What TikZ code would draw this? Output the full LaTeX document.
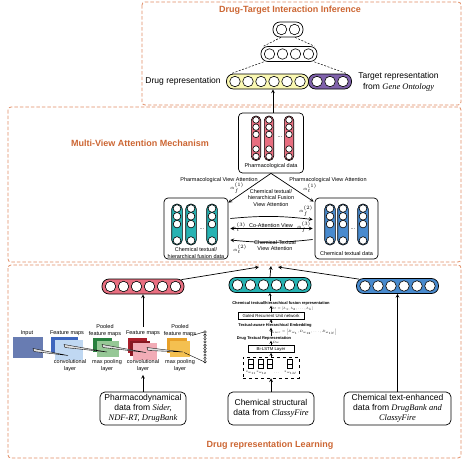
\documentclass[tikz,border=0pt]{standalone}
\usepackage{fontspec}
\setmainfont{Liberation Sans}
\newfontfamily\timesit{Liberation Serif}
\usepackage{amsmath}
\usetikzlibrary{arrows, positioning, calc}

\definecolor{secorange}{RGB}{204,102,51}
\definecolor{dashorange}{RGB}{224,140,100}
\definecolor{pharmpink}{RGB}{232,110,128}
\definecolor{fusionteal}{RGB}{38,178,178}
\definecolor{textblue}{RGB}{72,138,206}
\definecolor{drugyellow}{RGB}{250,248,178}
\definecolor{targetpurple}{RGB}{128,98,172}
\definecolor{inputblue}{RGB}{104,124,178}
\definecolor{fmblue}{RGB}{62,102,190}
\definecolor{fmlightblue}{RGB}{192,216,242}
\definecolor{poolgreen}{RGB}{40,128,62}
\definecolor{poollightgreen}{RGB}{150,200,150}
\definecolor{fmred}{RGB}{170,30,42}
\definecolor{fmpink}{RGB}{242,172,182}
\definecolor{poolorange}{RGB}{232,160,40}
\definecolor{poollightorange}{RGB}{244,192,80}

\newcommand{\sz}[2]{\fontsize{#1}{#2}\selectfont}
\newcommand{\tinymath}[1]{\scalebox{0.62}{$#1$}}

% horizontal layer of units: name, x, y, number of units, fill
\newcommand{\hlayer}[5]{%
  \node[layerbox, fill=#5, minimum width={#4*13+4}] (#1) at (#2,#3) {};
  \foreach \k in {1,...,#4}
    \node[unit] (#1-\k) at ({#2+(\k-(#4+1)/2)*13},#3) {};
}
% vertical layer: x, top, bottom, fill, radius, circle positions
\newcommand{\vlayer}[6]{%
  \draw[fill=#4, line width=0.6, rounded corners={#5+1.2}] ({#1-#5-1.5},#2) rectangle ({#1+#5+1.5},#3);
  \foreach \cy in {#6}
    \draw[fill=white, line width=0.6] (#1,\cy) circle (#5);
}

\begin{document}
\begin{tikzpicture}[x=1pt, y=-1pt, >=stealth, font=\sz{5.5}{6.5}]
\tikzstyle{layerbox} = [rectangle, rounded corners=7, draw, line width=0.7, minimum height=15, inner sep=0]
\tikzstyle{unit} = [circle, draw, fill=white, line width=0.6, inner sep=0, minimum size=10.5]
\tikzstyle{databox} = [rectangle, rounded corners=4, draw, line width=0.7, inner sep=0]
\tikzstyle{srcbox} = [rectangle, rounded corners=5, draw, line width=0.7, align=center, font=\sz{8.5}{10}, inner sep=0]
\tikzstyle{section} = [draw=dashorange, dash pattern=on 3.5pt off 2pt, line width=0.8, rounded corners=3]
\tikzstyle{sectitle} = [text=secorange, font=\bfseries\sz{9}{10}]
\tikzstyle{arrow} = [->, line width=0.7]
\tikzstyle{smallarrow} = [->, line width=0.4]
\tikzstyle{netline} = [dash pattern=on 2pt off 1.5pt, line width=0.5]
\tikzstyle{tinybox} = [rectangle, draw, line width=0.5, font=\sz{4.3}{5}, inner sep=0]
\tikzstyle{tinylbl} = [font=\bfseries\sz{4}{5}, inner sep=0]
\tikzstyle{formula} = [font=\sz{5}{6}, inner sep=0]
\tikzstyle{wedge} = [fill=gray!25, draw=black, line width=0.35]

\useasboundingbox (0,0) rectangle (474,471);

% sections
\draw[section] (142,2) rectangle (461,105);
\draw[section] (8,107) rectangle (461,262);
\draw[section] (8,265) rectangle (461,458);
\node[sectitle] (dtititle) at (290,10) {Drug-Target Interaction Inference};
\node[sectitle] (mvtitle) at (140,143) {Multi-View Attention Mechanism};
\node[sectitle] (drltitle) at (270,445) {Drug representation Learning};

% drug-target interaction inference
\hlayer{out}{288}{29.5}{2}{white}
\hlayer{hid}{289}{54}{4}{white}
\hlayer{drug}{267.5}{81.5}{6}{drugyellow}
\hlayer{target}{330}{81.5}{3}{targetpurple}
\draw[netline] ($(out.south)+(-7,0)$) -- ($(hid.north west)+(3,0)$);
\draw[netline] ($(out.south)+(7,0)$) -- ($(hid.north east)+(-3,0)$);
\draw[netline] ($(hid.south west)+(3,0)$) -- ($(drug.north west)+(5,0)$);
\draw[netline] ($(hid.south east)+(-3,0)$) -- ($(target.north east)+(-5,0)$);
\node[font=\sz{8.5}{10}, left=2pt of drug] (druglbl) {Drug representation};
\node[font=\sz{8.5}{11}, align=center, right=3pt of target] (targetlbl) {Target representation\\from {\timesit\itshape Gene Ontology}};

% multi-view attention
\node[databox, minimum width=65, minimum height=60] (pharm) at (271,143) {};
\vlayer{256}{116}{160.5}{pharmpink}{3.2}{120,127.2,134.4,149,156.4}
\vlayer{269}{116}{160.5}{pharmpink}{3.2}{120,127.2,134.4,149,156.4}
\vlayer{289}{116}{160.5}{pharmpink}{3.2}{120,127.2,134.4,149,156.4}
\node (pharmdots) at (280,137) {...};
\node (pharmlbl) at (271,166.5) {Pharmacological data};

\node[databox, minimum width=64, minimum height=61] (fusion) at (196,228.5) {};
\vlayer{177}{204}{245}{fusionteal}{3.8}{208.5,216.3,224.1,240.5}
\vlayer{191}{204}{245}{fusionteal}{3.8}{208.5,216.3,224.1,240.5}
\vlayer{212}{204}{245}{fusionteal}{3.8}{208.5,216.3,224.1,240.5}
\node (fusiondots) at (202,229) {...};
\node[align=center, font=\sz{5.5}{7}] (fusionlbl) at (196,253.5) {Chemical textual/\\hierarchical fusion data};

\node[databox, minimum width=63, minimum height=61] (textual) at (346.5,228.5) {};
\vlayer{330}{204}{245}{textblue}{3.8}{208.5,216.3,224.1,240.5}
\vlayer{343}{204}{245}{textblue}{3.8}{208.5,216.3,224.1,240.5}
\vlayer{363}{204}{245}{textblue}{3.8}{208.5,216.3,224.1,240.5}
\node (textualdots) at (353,229) {...};
\node (textuallbl) at (346.5,254) {Chemical textual data};

\coordinate (up) at ($(pharm.north)+(2,0)$);
\draw[arrow] (up) -- (up |- drug.south);
\draw[arrow] (pharm.south) -- ($(fusion.north east)+(0,5)$);
\draw[arrow] (pharm.south) -- ($(textual.north west)+(-1,4)$);
\draw[arrow] ($(fusion.east)+(2,-10)$) to[bend left=6] ($(textual.west)+(-2,-9)$);
\draw[<->, line width=0.7] ($(fusion.east)+(2,0)$) -- ($(textual.west)+(-2,0)$);
\draw[arrow] ($(textual.west)+(-2,11)$) to[bend left=6] ($(fusion.east)+(2,11.5)$);

\node (pvaleft) at (219,180) {Pharmacological View Attention};
\node (pvaright) at (328,180) {Pharmacological View Attention};
\node (af1) at (237,188) {$\alpha_f^{(1)}$};
\node (at1) at (310,188) {$\alpha_t^{(1)}$};
\node[align=center, font=\sz{5.5}{6.5}] (cfva) at (271,198) {Chemical textual/\\hierarchical Fusion\\View Attention};
\node (af2) at (306,211) {$\alpha_f^{(2)}$};
\node (coatt) at (271,225.5) {Co-Attention View};
\node (at3) at (239,227) {$\alpha_t^{(3)}$};
\node (af3) at (304,227) {$\alpha_f^{(3)}$};
\node[align=center, font=\sz{5.5}{6.5}] (ctva) at (275,245.5) {Chemical Textual\\View Attention};
\node (at2) at (240,249) {$\alpha_t^{(2)}$};

% drug representation learning
\hlayer{pdrep}{143}{286.5}{6}{pharmpink}
\hlayer{fusrep}{270}{285}{6}{fusionteal}
\hlayer{txtrep}{397.5}{286}{6}{textblue}
\coordinate (in1) at (259,267);
\coordinate (in2) at (271,266);
\coordinate (in3) at (278,267);
\draw[arrow] ($(pdrep.north east)+(-3,1)$) -- (in1);
\draw[arrow] (fusrep.north) -- (in2);
\draw[arrow] ($(txtrep.north west)+(3,1)$) -- (in3);

% CNN branch
\node (inputlbl) at (27,333) {Input};
\node[fill=inputblue, minimum width=30, minimum height=21, inner sep=0] (inputmap) at (28,347.5) {};
\fill[fmblue] (51,337) rectangle (78,353);
\fill[fmlightblue] (55,340) rectangle (83,360);
\fill[poolgreen] (93,338) rectangle (112,352);
\fill[poollightgreen] (97,341) rectangle (119,357);
\fill[fmred] (128,338) rectangle (147,353);
\fill[fmred!80!black] (130,340.5) rectangle (150,356);
\fill[fmpink] (133,343) rectangle (157,360);
\fill[poolorange] (167,338) rectangle (187,353);
\fill[poollightorange] (170,341) rectangle (190,357);
\filldraw[wedge] (33,348.5) -- (68,355.5) -- (34,351.5) -- cycle;
\filldraw[wedge] (64,344.5) -- (107,352) -- (65,347.5) -- cycle;
\filldraw[wedge] (102,344.5) -- (146,352.5) -- (103,347.5) -- cycle;
\filldraw[wedge] (147,347.5) -- (183,352) -- (148,350.5) -- cycle;
\foreach \i in {0,...,9}
  \draw[line width=0.4, fill=white] (205,332+\i*3.3) circle (1.3);
\draw[line width=0.4] (192,335.5) -- (204,332);
\draw[line width=0.4] (184,352.5) -- (204,361.7);
\node (fm1lbl) at (67,333) {Feature maps};
\node[align=center] (pool1lbl) at (105,330.5) {Pooled\\feature maps};
\node (fm2lbl) at (143,333) {Feature maps};
\node[align=center] (pool2lbl) at (180,330.5) {Pooled\\feature maps};
\node[align=center] (conv1lbl) at (70,365.5) {convolutional\\layer};
\node[align=center] (pool1layer) at (107,365.5) {max pooling\\layer};
\node[align=center] (conv2lbl) at (143,365.5) {convolutional\\layer};
\node[align=center] (pool2layer) at (180,365.5) {max pooling\\layer};
\draw[arrow] (fm2lbl.north) -- (pdrep.south);

% textual branch
\node[tinylbl] (fusreplbl) at (281,303.5) {Chemical textual/hierarchical fusion representation};
\node[formula] (dtform) at (292,308.5) {\tinymath{D_t=[h_1,h_2,\ldots,h_k]}};
\node[tinybox, minimum width=66, minimum height=7] (gru) at (271,315.5) {Gated Recurrent Unit network};
\node[tinylbl] (embedlbl) at (275,325.5) {Textual-aware Hierarchical Embedding};
\node[formula] (phform) at (303,332) {\tinymath{P_{hier}=\left[D_{w_1},D_{w_{12}},\ldots,D_{w_{1N}}\right]}};
\node[tinylbl] (reprlbl) at (264,338.5) {Drug Textual Representation};
\node[formula] (dwform) at (276,342.5) {\tinymath{D_w}};
\node[tinybox, minimum width=46, minimum height=7] (bilstm) at (271,349) {Bi-LSTM Layer};
\node[draw, dashed, minimum width=56, minimum height=21, inner sep=0, line width=0.5] (emb) at (271,367.5) {};
\foreach \gx in {251,261,270,290} {
  \draw[line width=0.4] (\gx-2.5,359.5) rectangle (\gx+2.5,368);
  \draw[line width=0.4] (\gx-2.5,363.75) -- (\gx+2.5,363.75);
}
\node[formula] (xw1) at (251,373) {\tinymath{x_{w_{11}}}};
\node[formula] (xw2) at (261.5,373) {\tinymath{x_{w_{12}}}};
\node[formula] (xw3) at (277,373) {\tinymath{\cdots}};
\node[formula] (xw4) at (290.5,373) {\tinymath{x_{w_{1M}}}};
\draw[smallarrow] (emb.north) -- (bilstm.south);
\draw[smallarrow] (bilstm.north) -- (bilstm.north |- reprlbl.south);
\draw[smallarrow] (gru.south |- reprlbl.north) -- (gru.south |- embedlbl.south);
\draw[smallarrow] (gru.south |- embedlbl.north) -- (gru.south);
\draw[smallarrow] (gru.north) -- (gru.north |- fusreplbl.south);
\draw[smallarrow] (fusrep.south |- fusreplbl.north) -- (fusrep.south);

% data sources
\node[srcbox, minimum width=86, minimum height=33] (pdsrc) at (143,408.5) {Pharmacodynamical\\data from {\timesit\itshape Sider,}\\{\timesit\itshape NDF-RT, DrugBank}};
\node[srcbox, minimum width=86, minimum height=33] (cssrc) at (271,408.5) {Chemical structural\\data from {\timesit\itshape ClassyFire}};
\node[srcbox, minimum width=107, minimum height=33] (ctsrc) at (397.5,408.5) {Chemical text-enhanced\\data from {\timesit\itshape DrugBank and}\\{\timesit\itshape ClassyFire}};
\draw[arrow] (pdsrc.north) -- (conv2lbl.south);
\draw[arrow] (cssrc.north) -- (emb.south);
\draw[arrow] (ctsrc.north) -- (txtrep.south);
\end{tikzpicture}
\end{document}
